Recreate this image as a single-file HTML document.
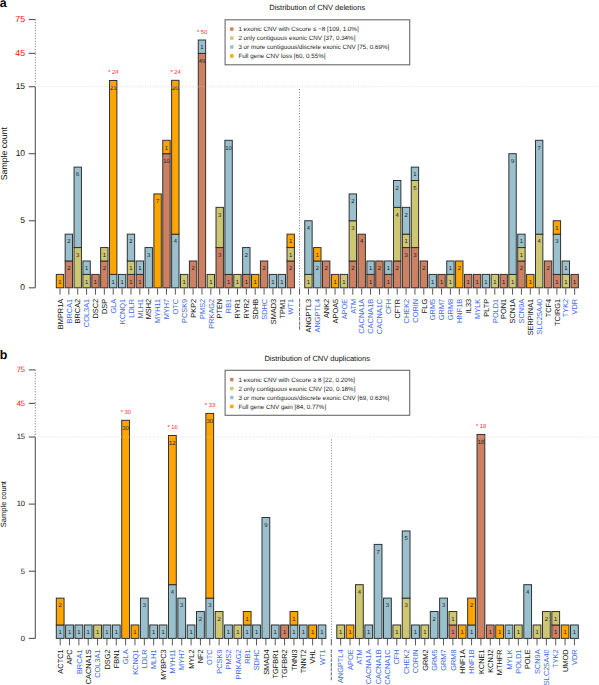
<!DOCTYPE html>
<html><head><meta charset="utf-8"><style>
html,body{margin:0;padding:0;background:#fff;width:599px;height:685px;overflow:hidden}
svg{display:block;font-family:"Liberation Sans",sans-serif;text-rendering:geometricPrecision}
</style></head><body>
<svg width="599" height="685" viewBox="0 0 599 685">
<text x="317.2" y="10" font-size="7.5" text-anchor="middle" fill="#111">Distribution of CNV deletions</text>
<text x="-0.3" y="6.9" font-size="12.4" font-weight="bold" fill="#000">a</text>
<rect x="225.1" y="19.8" width="184.6" height="45" fill="none" stroke="#6a6a6a" stroke-width="1.1"/>
<rect x="230.1" y="27.35" width="3.4" height="3.5" fill="#CD8162"/>
<text x="238.4" y="31.3" font-size="6.27" fill="#1a1a1a">1 exonic CNV with Cscore ≤ −8 [109, 1.0%]</text>
<rect x="230.1" y="36.3" width="3.4" height="3.5" fill="#CDC673"/>
<text x="238.4" y="40.25" font-size="6.27" fill="#1a1a1a">2 only contiguous exonic CNV [37, 0.34%]</text>
<rect x="230.1" y="45.25" width="3.4" height="3.5" fill="#9AC0CD"/>
<text x="238.4" y="49.2" font-size="6.27" fill="#1a1a1a">3 or more contiguous/discrete exonic CNV [75, 0.69%]</text>
<rect x="230.1" y="54.2" width="3.4" height="3.5" fill="#FFA500"/>
<text x="238.4" y="58.15" font-size="6.27" fill="#1a1a1a">Full gene CNV loss [60, 0.55%]</text>
<line x1="35.3" y1="86.7" x2="35.3" y2="287.8" stroke="#555" stroke-width="1.1"/>
<line x1="35.3" y1="19.5" x2="35.3" y2="86.7" stroke="#555" stroke-width="0.9" stroke-dasharray="0.9 1.77"/>
<line x1="28.8" y1="287.8" x2="35.3" y2="287.8" stroke="#555" stroke-width="1.1"/>
<text x="25.1" y="290.47" font-size="8.5" text-anchor="end" fill="#111">0</text>
<line x1="28.8" y1="220.75" x2="35.3" y2="220.75" stroke="#555" stroke-width="1.1"/>
<text x="25.1" y="223.42" font-size="8.5" text-anchor="end" fill="#111">5</text>
<line x1="28.8" y1="153.7" x2="35.3" y2="153.7" stroke="#555" stroke-width="1.1"/>
<text x="25.1" y="156.37" font-size="8.5" text-anchor="end" fill="#111">10</text>
<line x1="28.8" y1="86.7" x2="35.3" y2="86.7" stroke="#555" stroke-width="1.1"/>
<text x="25.1" y="89.37" font-size="8.5" text-anchor="end" fill="#111">15</text>
<line x1="28.8" y1="53.4" x2="35.3" y2="53.4" stroke="#555" stroke-width="1.1"/>
<text x="25.1" y="56.17" font-size="8.8" text-anchor="end" fill="#ff0d0d">45</text>
<line x1="28.8" y1="19.5" x2="35.3" y2="19.5" stroke="#555" stroke-width="1.1"/>
<text x="25.1" y="22.27" font-size="8.8" text-anchor="end" fill="#ff0d0d">75</text>
<text transform="translate(6.87 153.65) rotate(-90)" font-size="8.7" text-anchor="middle" fill="#111">Sample count</text>
<line x1="299.5" y1="89.2" x2="299.5" y2="287.8" stroke="#666" stroke-width="0.9" stroke-dasharray="0.9 1.77"/>
<line x1="59.98" y1="288.4" x2="59.98" y2="294.7" stroke="#444" stroke-width="0.9"/>
<text transform="translate(62.68 298.8) rotate(-90)" font-size="7.4" text-anchor="end" fill="#111">BMPR1A</text>
<rect x="56.28" y="274.39" width="7.39" height="13.41" fill="#FFA500" stroke="#2a2a2a" stroke-width="0.95"/>
<text x="59.98" y="283.69" font-size="5.9" text-anchor="middle" fill="#1a1a1a">1</text>
<line x1="68.85" y1="288.4" x2="68.85" y2="294.7" stroke="#444" stroke-width="0.9"/>
<text transform="translate(71.55 298.8) rotate(-90)" font-size="7.4" text-anchor="end" fill="#4169E1">BRCA1</text>
<rect x="65.15" y="260.98" width="7.39" height="26.82" fill="#CD8162" stroke="#2a2a2a" stroke-width="0.95"/>
<rect x="65.15" y="234.16" width="7.39" height="26.82" fill="#9AC0CD" stroke="#2a2a2a" stroke-width="0.95"/>
<text x="68.85" y="270.28" font-size="5.9" text-anchor="middle" fill="#1a1a1a">2</text>
<text x="68.85" y="243.46" font-size="5.9" text-anchor="middle" fill="#1a1a1a">2</text>
<line x1="77.72" y1="288.4" x2="77.72" y2="294.7" stroke="#444" stroke-width="0.9"/>
<text transform="translate(80.42 298.8) rotate(-90)" font-size="7.4" text-anchor="end" fill="#111">BRCA2</text>
<rect x="74.03" y="247.57" width="7.39" height="40.23" fill="#CDC673" stroke="#2a2a2a" stroke-width="0.95"/>
<rect x="74.03" y="167.11" width="7.39" height="80.46" fill="#9AC0CD" stroke="#2a2a2a" stroke-width="0.95"/>
<text x="77.72" y="256.87" font-size="5.9" text-anchor="middle" fill="#1a1a1a">3</text>
<text x="77.72" y="176.41" font-size="5.9" text-anchor="middle" fill="#1a1a1a">6</text>
<line x1="86.6" y1="288.4" x2="86.6" y2="294.7" stroke="#444" stroke-width="0.9"/>
<text transform="translate(89.3 298.8) rotate(-90)" font-size="7.4" text-anchor="end" fill="#4169E1">COL3A1</text>
<rect x="82.9" y="274.39" width="7.39" height="13.41" fill="#CDC673" stroke="#2a2a2a" stroke-width="0.95"/>
<rect x="82.9" y="260.98" width="7.39" height="13.41" fill="#9AC0CD" stroke="#2a2a2a" stroke-width="0.95"/>
<text x="86.6" y="283.69" font-size="5.9" text-anchor="middle" fill="#1a1a1a">1</text>
<text x="86.6" y="270.28" font-size="5.9" text-anchor="middle" fill="#1a1a1a">1</text>
<line x1="95.47" y1="288.4" x2="95.47" y2="294.7" stroke="#444" stroke-width="0.9"/>
<text transform="translate(98.17 298.8) rotate(-90)" font-size="7.4" text-anchor="end" fill="#111">DSC2</text>
<rect x="91.78" y="274.39" width="7.39" height="13.41" fill="#CD8162" stroke="#2a2a2a" stroke-width="0.95"/>
<text x="95.47" y="283.69" font-size="5.9" text-anchor="middle" fill="#1a1a1a">1</text>
<line x1="104.34" y1="288.4" x2="104.34" y2="294.7" stroke="#444" stroke-width="0.9"/>
<text transform="translate(107.05 298.8) rotate(-90)" font-size="7.4" text-anchor="end" fill="#111">DSP</text>
<rect x="100.65" y="260.98" width="7.39" height="26.82" fill="#CD8162" stroke="#2a2a2a" stroke-width="0.95"/>
<rect x="100.65" y="247.57" width="7.39" height="13.41" fill="#CDC673" stroke="#2a2a2a" stroke-width="0.95"/>
<text x="104.34" y="270.28" font-size="5.9" text-anchor="middle" fill="#1a1a1a">2</text>
<text x="104.34" y="256.87" font-size="5.9" text-anchor="middle" fill="#1a1a1a">1</text>
<line x1="113.22" y1="288.4" x2="113.22" y2="294.7" stroke="#444" stroke-width="0.9"/>
<text transform="translate(115.92 298.8) rotate(-90)" font-size="7.4" text-anchor="end" fill="#4169E1">GLA</text>
<rect x="109.52" y="274.39" width="7.39" height="13.41" fill="#9AC0CD" stroke="#2a2a2a" stroke-width="0.95"/>
<rect x="109.52" y="80.5" width="7.39" height="193.89" fill="#FFA500" stroke="#2a2a2a" stroke-width="0.95"/>
<text x="113.22" y="283.69" font-size="5.9" text-anchor="middle" fill="#1a1a1a">1</text>
<text x="113.22" y="89.8" font-size="5.9" text-anchor="middle" fill="#1a1a1a">23</text>
<text x="113.42" y="74" font-size="5.8" text-anchor="middle" fill="#ff1f1f">* 24</text>
<line x1="122.09" y1="288.4" x2="122.09" y2="294.7" stroke="#444" stroke-width="0.9"/>
<text transform="translate(124.79 298.8) rotate(-90)" font-size="7.4" text-anchor="end" fill="#4169E1">KCNQ1</text>
<rect x="118.4" y="274.39" width="7.39" height="13.41" fill="#9AC0CD" stroke="#2a2a2a" stroke-width="0.95"/>
<text x="122.09" y="283.69" font-size="5.9" text-anchor="middle" fill="#1a1a1a">1</text>
<line x1="130.97" y1="288.4" x2="130.97" y2="294.7" stroke="#444" stroke-width="0.9"/>
<text transform="translate(133.67 298.8) rotate(-90)" font-size="7.4" text-anchor="end" fill="#4169E1">LDLR</text>
<rect x="127.27" y="274.39" width="7.39" height="13.41" fill="#CD8162" stroke="#2a2a2a" stroke-width="0.95"/>
<rect x="127.27" y="260.98" width="7.39" height="13.41" fill="#CDC673" stroke="#2a2a2a" stroke-width="0.95"/>
<rect x="127.27" y="234.16" width="7.39" height="26.82" fill="#9AC0CD" stroke="#2a2a2a" stroke-width="0.95"/>
<text x="130.97" y="283.69" font-size="5.9" text-anchor="middle" fill="#1a1a1a">1</text>
<text x="130.97" y="270.28" font-size="5.9" text-anchor="middle" fill="#1a1a1a">1</text>
<text x="130.97" y="243.46" font-size="5.9" text-anchor="middle" fill="#1a1a1a">2</text>
<line x1="139.84" y1="288.4" x2="139.84" y2="294.7" stroke="#444" stroke-width="0.9"/>
<text transform="translate(142.54 298.8) rotate(-90)" font-size="7.4" text-anchor="end" fill="#4169E1">MLH1</text>
<rect x="136.15" y="274.39" width="7.39" height="13.41" fill="#CD8162" stroke="#2a2a2a" stroke-width="0.95"/>
<rect x="136.15" y="260.98" width="7.39" height="13.41" fill="#9AC0CD" stroke="#2a2a2a" stroke-width="0.95"/>
<text x="139.84" y="283.69" font-size="5.9" text-anchor="middle" fill="#1a1a1a">1</text>
<text x="139.84" y="270.28" font-size="5.9" text-anchor="middle" fill="#1a1a1a">1</text>
<line x1="148.72" y1="288.4" x2="148.72" y2="294.7" stroke="#444" stroke-width="0.9"/>
<text transform="translate(151.41 298.8) rotate(-90)" font-size="7.4" text-anchor="end" fill="#111">MSH2</text>
<rect x="145.02" y="247.57" width="7.39" height="40.23" fill="#9AC0CD" stroke="#2a2a2a" stroke-width="0.95"/>
<text x="148.72" y="256.87" font-size="5.9" text-anchor="middle" fill="#1a1a1a">3</text>
<line x1="157.59" y1="288.4" x2="157.59" y2="294.7" stroke="#444" stroke-width="0.9"/>
<text transform="translate(160.29 298.8) rotate(-90)" font-size="7.4" text-anchor="end" fill="#4169E1">MYH11</text>
<rect x="153.89" y="193.93" width="7.39" height="93.87" fill="#FFA500" stroke="#2a2a2a" stroke-width="0.95"/>
<text x="157.59" y="203.23" font-size="5.9" text-anchor="middle" fill="#1a1a1a">7</text>
<line x1="166.46" y1="288.4" x2="166.46" y2="294.7" stroke="#444" stroke-width="0.9"/>
<text transform="translate(169.16 298.8) rotate(-90)" font-size="7.4" text-anchor="end" fill="#4169E1">MYH7</text>
<rect x="162.77" y="153.7" width="7.39" height="134.1" fill="#CD8162" stroke="#2a2a2a" stroke-width="0.95"/>
<rect x="162.77" y="140.29" width="7.39" height="13.41" fill="#FFA500" stroke="#2a2a2a" stroke-width="0.95"/>
<text x="166.46" y="163" font-size="5.9" text-anchor="middle" fill="#1a1a1a">10</text>
<text x="166.46" y="149.59" font-size="5.9" text-anchor="middle" fill="#1a1a1a">1</text>
<line x1="175.34" y1="288.4" x2="175.34" y2="294.7" stroke="#444" stroke-width="0.9"/>
<text transform="translate(178.04 298.8) rotate(-90)" font-size="7.4" text-anchor="end" fill="#4169E1">OTC</text>
<rect x="171.64" y="234.16" width="7.39" height="53.64" fill="#9AC0CD" stroke="#2a2a2a" stroke-width="0.95"/>
<rect x="171.64" y="80.3" width="7.39" height="153.86" fill="#FFA500" stroke="#2a2a2a" stroke-width="0.95"/>
<text x="175.34" y="243.46" font-size="5.9" text-anchor="middle" fill="#1a1a1a">4</text>
<text x="175.34" y="89.6" font-size="5.9" text-anchor="middle" fill="#1a1a1a">20</text>
<text x="175.54" y="74" font-size="5.8" text-anchor="middle" fill="#ff1f1f">* 24</text>
<line x1="184.21" y1="288.4" x2="184.21" y2="294.7" stroke="#444" stroke-width="0.9"/>
<text transform="translate(186.91 298.8) rotate(-90)" font-size="7.4" text-anchor="end" fill="#4169E1">PCSK9</text>
<rect x="180.52" y="274.39" width="7.39" height="13.41" fill="#CDC673" stroke="#2a2a2a" stroke-width="0.95"/>
<text x="184.21" y="283.69" font-size="5.9" text-anchor="middle" fill="#1a1a1a">1</text>
<line x1="193.09" y1="288.4" x2="193.09" y2="294.7" stroke="#444" stroke-width="0.9"/>
<text transform="translate(195.78 298.8) rotate(-90)" font-size="7.4" text-anchor="end" fill="#111">PKP2</text>
<rect x="189.39" y="260.98" width="7.39" height="26.82" fill="#CD8162" stroke="#2a2a2a" stroke-width="0.95"/>
<text x="193.09" y="270.28" font-size="5.9" text-anchor="middle" fill="#1a1a1a">2</text>
<line x1="201.96" y1="288.4" x2="201.96" y2="294.7" stroke="#444" stroke-width="0.9"/>
<text transform="translate(204.66 298.8) rotate(-90)" font-size="7.4" text-anchor="end" fill="#4169E1">PMS2</text>
<rect x="198.26" y="53.4" width="7.39" height="234.4" fill="#CD8162" stroke="#2a2a2a" stroke-width="0.95"/>
<rect x="198.26" y="40" width="7.39" height="13.4" fill="#9AC0CD" stroke="#2a2a2a" stroke-width="0.95"/>
<text x="201.96" y="62.7" font-size="5.9" text-anchor="middle" fill="#1a1a1a">49</text>
<text x="201.96" y="49.3" font-size="5.9" text-anchor="middle" fill="#1a1a1a">1</text>
<text x="202.16" y="33.9" font-size="5.8" text-anchor="middle" fill="#ff1f1f">* 50</text>
<line x1="210.83" y1="288.4" x2="210.83" y2="294.7" stroke="#444" stroke-width="0.9"/>
<text transform="translate(213.53 298.8) rotate(-90)" font-size="7.4" text-anchor="end" fill="#4169E1">PRKAG2</text>
<rect x="207.14" y="274.39" width="7.39" height="13.41" fill="#CDC673" stroke="#2a2a2a" stroke-width="0.95"/>
<text x="210.83" y="283.69" font-size="5.9" text-anchor="middle" fill="#1a1a1a">1</text>
<line x1="219.71" y1="288.4" x2="219.71" y2="294.7" stroke="#444" stroke-width="0.9"/>
<text transform="translate(222.41 298.8) rotate(-90)" font-size="7.4" text-anchor="end" fill="#111">PTEN</text>
<rect x="216.01" y="247.57" width="7.39" height="40.23" fill="#CD8162" stroke="#2a2a2a" stroke-width="0.95"/>
<rect x="216.01" y="207.34" width="7.39" height="40.23" fill="#CDC673" stroke="#2a2a2a" stroke-width="0.95"/>
<text x="219.71" y="256.87" font-size="5.9" text-anchor="middle" fill="#1a1a1a">3</text>
<text x="219.71" y="216.64" font-size="5.9" text-anchor="middle" fill="#1a1a1a">3</text>
<line x1="228.58" y1="288.4" x2="228.58" y2="294.7" stroke="#444" stroke-width="0.9"/>
<text transform="translate(231.28 298.8) rotate(-90)" font-size="7.4" text-anchor="end" fill="#4169E1">RB1</text>
<rect x="224.89" y="274.39" width="7.39" height="13.41" fill="#CD8162" stroke="#2a2a2a" stroke-width="0.95"/>
<rect x="224.89" y="140.29" width="7.39" height="134.1" fill="#9AC0CD" stroke="#2a2a2a" stroke-width="0.95"/>
<text x="228.58" y="283.69" font-size="5.9" text-anchor="middle" fill="#1a1a1a">1</text>
<text x="228.58" y="149.59" font-size="5.9" text-anchor="middle" fill="#1a1a1a">10</text>
<line x1="237.46" y1="288.4" x2="237.46" y2="294.7" stroke="#444" stroke-width="0.9"/>
<text transform="translate(240.16 298.8) rotate(-90)" font-size="7.4" text-anchor="end" fill="#111">RYR1</text>
<rect x="233.76" y="274.39" width="7.39" height="13.41" fill="#CDC673" stroke="#2a2a2a" stroke-width="0.95"/>
<text x="237.46" y="283.69" font-size="5.9" text-anchor="middle" fill="#1a1a1a">1</text>
<line x1="246.33" y1="288.4" x2="246.33" y2="294.7" stroke="#444" stroke-width="0.9"/>
<text transform="translate(249.03 298.8) rotate(-90)" font-size="7.4" text-anchor="end" fill="#111">RYR2</text>
<rect x="242.63" y="274.39" width="7.39" height="13.41" fill="#CD8162" stroke="#2a2a2a" stroke-width="0.95"/>
<rect x="242.63" y="247.57" width="7.39" height="26.82" fill="#9AC0CD" stroke="#2a2a2a" stroke-width="0.95"/>
<text x="246.33" y="283.69" font-size="5.9" text-anchor="middle" fill="#1a1a1a">1</text>
<text x="246.33" y="256.87" font-size="5.9" text-anchor="middle" fill="#1a1a1a">2</text>
<line x1="255.2" y1="288.4" x2="255.2" y2="294.7" stroke="#444" stroke-width="0.9"/>
<text transform="translate(257.9 298.8) rotate(-90)" font-size="7.4" text-anchor="end" fill="#111">SDHB</text>
<rect x="251.51" y="274.39" width="7.39" height="13.41" fill="#FFA500" stroke="#2a2a2a" stroke-width="0.95"/>
<text x="255.2" y="283.69" font-size="5.9" text-anchor="middle" fill="#1a1a1a">1</text>
<line x1="264.08" y1="288.4" x2="264.08" y2="294.7" stroke="#444" stroke-width="0.9"/>
<text transform="translate(266.78 298.8) rotate(-90)" font-size="7.4" text-anchor="end" fill="#4169E1">SDHC</text>
<rect x="260.38" y="260.98" width="7.39" height="26.82" fill="#CD8162" stroke="#2a2a2a" stroke-width="0.95"/>
<text x="264.08" y="270.28" font-size="5.9" text-anchor="middle" fill="#1a1a1a">2</text>
<line x1="272.95" y1="288.4" x2="272.95" y2="294.7" stroke="#444" stroke-width="0.9"/>
<text transform="translate(275.65 298.8) rotate(-90)" font-size="7.4" text-anchor="end" fill="#111">SMAD3</text>
<rect x="269.26" y="274.39" width="7.39" height="13.41" fill="#9AC0CD" stroke="#2a2a2a" stroke-width="0.95"/>
<text x="272.95" y="283.69" font-size="5.9" text-anchor="middle" fill="#1a1a1a">1</text>
<line x1="281.82" y1="288.4" x2="281.82" y2="294.7" stroke="#444" stroke-width="0.9"/>
<text transform="translate(284.52 298.8) rotate(-90)" font-size="7.4" text-anchor="end" fill="#111">TPM1</text>
<rect x="278.13" y="274.39" width="7.39" height="13.41" fill="#9AC0CD" stroke="#2a2a2a" stroke-width="0.95"/>
<text x="281.82" y="283.69" font-size="5.9" text-anchor="middle" fill="#1a1a1a">1</text>
<line x1="290.7" y1="288.4" x2="290.7" y2="294.7" stroke="#444" stroke-width="0.9"/>
<text transform="translate(293.4 298.8) rotate(-90)" font-size="7.4" text-anchor="end" fill="#4169E1">WT1</text>
<rect x="287" y="260.98" width="7.39" height="26.82" fill="#CD8162" stroke="#2a2a2a" stroke-width="0.95"/>
<rect x="287" y="247.57" width="7.39" height="13.41" fill="#CDC673" stroke="#2a2a2a" stroke-width="0.95"/>
<rect x="287" y="234.16" width="7.39" height="13.41" fill="#FFA500" stroke="#2a2a2a" stroke-width="0.95"/>
<text x="290.7" y="270.28" font-size="5.9" text-anchor="middle" fill="#1a1a1a">2</text>
<text x="290.7" y="256.87" font-size="5.9" text-anchor="middle" fill="#1a1a1a">1</text>
<text x="290.7" y="243.46" font-size="5.9" text-anchor="middle" fill="#1a1a1a">1</text>
<line x1="299.57" y1="288.4" x2="299.57" y2="294.7" stroke="#444" stroke-width="0.9"/>
<line x1="299.57" y1="298.8" x2="299.57" y2="330.6" stroke="#777" stroke-width="1.1" stroke-dasharray="3.6 0.95"/>
<line x1="308.45" y1="288.4" x2="308.45" y2="294.7" stroke="#444" stroke-width="0.9"/>
<text transform="translate(311.15 298.8) rotate(-90)" font-size="7.4" text-anchor="end" fill="#111">ANGPTL3</text>
<rect x="304.75" y="274.39" width="7.39" height="13.41" fill="#CDC673" stroke="#2a2a2a" stroke-width="0.95"/>
<rect x="304.75" y="220.75" width="7.39" height="53.64" fill="#9AC0CD" stroke="#2a2a2a" stroke-width="0.95"/>
<text x="308.45" y="283.69" font-size="5.9" text-anchor="middle" fill="#1a1a1a">1</text>
<text x="308.45" y="230.05" font-size="5.9" text-anchor="middle" fill="#1a1a1a">4</text>
<line x1="317.32" y1="288.4" x2="317.32" y2="294.7" stroke="#444" stroke-width="0.9"/>
<text transform="translate(320.02 298.8) rotate(-90)" font-size="7.4" text-anchor="end" fill="#4169E1">ANGPTL4</text>
<rect x="313.63" y="260.98" width="7.39" height="26.82" fill="#9AC0CD" stroke="#2a2a2a" stroke-width="0.95"/>
<rect x="313.63" y="247.57" width="7.39" height="13.41" fill="#FFA500" stroke="#2a2a2a" stroke-width="0.95"/>
<text x="317.32" y="270.28" font-size="5.9" text-anchor="middle" fill="#1a1a1a">2</text>
<text x="317.32" y="256.87" font-size="5.9" text-anchor="middle" fill="#1a1a1a">1</text>
<line x1="326.19" y1="288.4" x2="326.19" y2="294.7" stroke="#444" stroke-width="0.9"/>
<text transform="translate(328.89 298.8) rotate(-90)" font-size="7.4" text-anchor="end" fill="#111">ANK2</text>
<rect x="322.5" y="260.98" width="7.39" height="26.82" fill="#CD8162" stroke="#2a2a2a" stroke-width="0.95"/>
<text x="326.19" y="270.28" font-size="5.9" text-anchor="middle" fill="#1a1a1a">2</text>
<line x1="335.07" y1="288.4" x2="335.07" y2="294.7" stroke="#444" stroke-width="0.9"/>
<text transform="translate(337.77 298.8) rotate(-90)" font-size="7.4" text-anchor="end" fill="#111">APOA5</text>
<rect x="331.37" y="274.39" width="7.39" height="13.41" fill="#FFA500" stroke="#2a2a2a" stroke-width="0.95"/>
<text x="335.07" y="283.69" font-size="5.9" text-anchor="middle" fill="#1a1a1a">1</text>
<line x1="343.94" y1="288.4" x2="343.94" y2="294.7" stroke="#444" stroke-width="0.9"/>
<text transform="translate(346.64 298.8) rotate(-90)" font-size="7.4" text-anchor="end" fill="#4169E1">APOE</text>
<rect x="340.25" y="274.39" width="7.39" height="13.41" fill="#CDC673" stroke="#2a2a2a" stroke-width="0.95"/>
<text x="343.94" y="283.69" font-size="5.9" text-anchor="middle" fill="#1a1a1a">1</text>
<line x1="352.82" y1="288.4" x2="352.82" y2="294.7" stroke="#444" stroke-width="0.9"/>
<text transform="translate(355.52 298.8) rotate(-90)" font-size="7.4" text-anchor="end" fill="#4169E1">ATM</text>
<rect x="349.12" y="260.98" width="7.39" height="26.82" fill="#CD8162" stroke="#2a2a2a" stroke-width="0.95"/>
<rect x="349.12" y="220.75" width="7.39" height="40.23" fill="#CDC673" stroke="#2a2a2a" stroke-width="0.95"/>
<rect x="349.12" y="193.93" width="7.39" height="26.82" fill="#9AC0CD" stroke="#2a2a2a" stroke-width="0.95"/>
<text x="352.82" y="270.28" font-size="5.9" text-anchor="middle" fill="#1a1a1a">2</text>
<text x="352.82" y="230.05" font-size="5.9" text-anchor="middle" fill="#1a1a1a">3</text>
<text x="352.82" y="203.23" font-size="5.9" text-anchor="middle" fill="#1a1a1a">2</text>
<line x1="361.69" y1="288.4" x2="361.69" y2="294.7" stroke="#444" stroke-width="0.9"/>
<text transform="translate(364.39 298.8) rotate(-90)" font-size="7.4" text-anchor="end" fill="#4169E1">CACNA1A</text>
<rect x="358" y="234.16" width="7.39" height="53.64" fill="#CD8162" stroke="#2a2a2a" stroke-width="0.95"/>
<text x="361.69" y="243.46" font-size="5.9" text-anchor="middle" fill="#1a1a1a">4</text>
<line x1="370.56" y1="288.4" x2="370.56" y2="294.7" stroke="#444" stroke-width="0.9"/>
<text transform="translate(373.26 298.8) rotate(-90)" font-size="7.4" text-anchor="end" fill="#4169E1">CACNA1B</text>
<rect x="366.87" y="274.39" width="7.39" height="13.41" fill="#CD8162" stroke="#2a2a2a" stroke-width="0.95"/>
<rect x="366.87" y="260.98" width="7.39" height="13.41" fill="#9AC0CD" stroke="#2a2a2a" stroke-width="0.95"/>
<text x="370.56" y="283.69" font-size="5.9" text-anchor="middle" fill="#1a1a1a">1</text>
<text x="370.56" y="270.28" font-size="5.9" text-anchor="middle" fill="#1a1a1a">1</text>
<line x1="379.44" y1="288.4" x2="379.44" y2="294.7" stroke="#444" stroke-width="0.9"/>
<text transform="translate(382.14 298.8) rotate(-90)" font-size="7.4" text-anchor="end" fill="#4169E1">CACNA1C</text>
<rect x="375.74" y="260.98" width="7.39" height="26.82" fill="#CD8162" stroke="#2a2a2a" stroke-width="0.95"/>
<text x="379.44" y="270.28" font-size="5.9" text-anchor="middle" fill="#1a1a1a">2</text>
<line x1="388.31" y1="288.4" x2="388.31" y2="294.7" stroke="#444" stroke-width="0.9"/>
<text transform="translate(391.01 298.8) rotate(-90)" font-size="7.4" text-anchor="end" fill="#4169E1">CFH</text>
<rect x="384.62" y="274.39" width="7.39" height="13.41" fill="#CD8162" stroke="#2a2a2a" stroke-width="0.95"/>
<rect x="384.62" y="260.98" width="7.39" height="13.41" fill="#9AC0CD" stroke="#2a2a2a" stroke-width="0.95"/>
<text x="388.31" y="283.69" font-size="5.9" text-anchor="middle" fill="#1a1a1a">1</text>
<text x="388.31" y="270.28" font-size="5.9" text-anchor="middle" fill="#1a1a1a">1</text>
<line x1="397.19" y1="288.4" x2="397.19" y2="294.7" stroke="#444" stroke-width="0.9"/>
<text transform="translate(399.89 298.8) rotate(-90)" font-size="7.4" text-anchor="end" fill="#111">CFTR</text>
<rect x="393.49" y="260.98" width="7.39" height="26.82" fill="#CD8162" stroke="#2a2a2a" stroke-width="0.95"/>
<rect x="393.49" y="207.34" width="7.39" height="53.64" fill="#CDC673" stroke="#2a2a2a" stroke-width="0.95"/>
<rect x="393.49" y="180.52" width="7.39" height="26.82" fill="#9AC0CD" stroke="#2a2a2a" stroke-width="0.95"/>
<text x="397.19" y="270.28" font-size="5.9" text-anchor="middle" fill="#1a1a1a">2</text>
<text x="397.19" y="216.64" font-size="5.9" text-anchor="middle" fill="#1a1a1a">4</text>
<text x="397.19" y="189.82" font-size="5.9" text-anchor="middle" fill="#1a1a1a">2</text>
<line x1="406.06" y1="288.4" x2="406.06" y2="294.7" stroke="#444" stroke-width="0.9"/>
<text transform="translate(408.76 298.8) rotate(-90)" font-size="7.4" text-anchor="end" fill="#4169E1">CHEK2</text>
<rect x="402.37" y="247.57" width="7.39" height="40.23" fill="#CD8162" stroke="#2a2a2a" stroke-width="0.95"/>
<rect x="402.37" y="234.16" width="7.39" height="13.41" fill="#CDC673" stroke="#2a2a2a" stroke-width="0.95"/>
<rect x="402.37" y="207.34" width="7.39" height="26.82" fill="#9AC0CD" stroke="#2a2a2a" stroke-width="0.95"/>
<text x="406.06" y="256.87" font-size="5.9" text-anchor="middle" fill="#1a1a1a">3</text>
<text x="406.06" y="243.46" font-size="5.9" text-anchor="middle" fill="#1a1a1a">1</text>
<text x="406.06" y="216.64" font-size="5.9" text-anchor="middle" fill="#1a1a1a">2</text>
<line x1="414.94" y1="288.4" x2="414.94" y2="294.7" stroke="#444" stroke-width="0.9"/>
<text transform="translate(417.63 298.8) rotate(-90)" font-size="7.4" text-anchor="end" fill="#4169E1">CORIN</text>
<rect x="411.24" y="247.57" width="7.39" height="40.23" fill="#CD8162" stroke="#2a2a2a" stroke-width="0.95"/>
<rect x="411.24" y="180.52" width="7.39" height="67.05" fill="#CDC673" stroke="#2a2a2a" stroke-width="0.95"/>
<rect x="411.24" y="167.11" width="7.39" height="13.41" fill="#9AC0CD" stroke="#2a2a2a" stroke-width="0.95"/>
<text x="414.94" y="256.87" font-size="5.9" text-anchor="middle" fill="#1a1a1a">3</text>
<text x="414.94" y="189.82" font-size="5.9" text-anchor="middle" fill="#1a1a1a">5</text>
<text x="414.94" y="176.41" font-size="5.9" text-anchor="middle" fill="#1a1a1a">1</text>
<line x1="423.81" y1="288.4" x2="423.81" y2="294.7" stroke="#444" stroke-width="0.9"/>
<text transform="translate(426.51 298.8) rotate(-90)" font-size="7.4" text-anchor="end" fill="#111">FLG</text>
<rect x="420.11" y="260.98" width="7.39" height="26.82" fill="#CD8162" stroke="#2a2a2a" stroke-width="0.95"/>
<text x="423.81" y="270.28" font-size="5.9" text-anchor="middle" fill="#1a1a1a">2</text>
<line x1="432.68" y1="288.4" x2="432.68" y2="294.7" stroke="#444" stroke-width="0.9"/>
<text transform="translate(435.38 298.8) rotate(-90)" font-size="7.4" text-anchor="end" fill="#4169E1">GRM5</text>
<rect x="428.99" y="274.39" width="7.39" height="13.41" fill="#9AC0CD" stroke="#2a2a2a" stroke-width="0.95"/>
<text x="432.68" y="283.69" font-size="5.9" text-anchor="middle" fill="#1a1a1a">1</text>
<line x1="441.56" y1="288.4" x2="441.56" y2="294.7" stroke="#444" stroke-width="0.9"/>
<text transform="translate(444.26 298.8) rotate(-90)" font-size="7.4" text-anchor="end" fill="#4169E1">GRM7</text>
<rect x="437.86" y="274.39" width="7.39" height="13.41" fill="#CD8162" stroke="#2a2a2a" stroke-width="0.95"/>
<text x="441.56" y="283.69" font-size="5.9" text-anchor="middle" fill="#1a1a1a">1</text>
<line x1="450.43" y1="288.4" x2="450.43" y2="294.7" stroke="#444" stroke-width="0.9"/>
<text transform="translate(453.13 298.8) rotate(-90)" font-size="7.4" text-anchor="end" fill="#4169E1">GRM8</text>
<rect x="446.74" y="274.39" width="7.39" height="13.41" fill="#CDC673" stroke="#2a2a2a" stroke-width="0.95"/>
<rect x="446.74" y="260.98" width="7.39" height="13.41" fill="#9AC0CD" stroke="#2a2a2a" stroke-width="0.95"/>
<text x="450.43" y="283.69" font-size="5.9" text-anchor="middle" fill="#1a1a1a">1</text>
<text x="450.43" y="270.28" font-size="5.9" text-anchor="middle" fill="#1a1a1a">1</text>
<line x1="459.31" y1="288.4" x2="459.31" y2="294.7" stroke="#444" stroke-width="0.9"/>
<text transform="translate(462 298.8) rotate(-90)" font-size="7.4" text-anchor="end" fill="#4169E1">HNF1B</text>
<rect x="455.61" y="260.98" width="7.39" height="26.82" fill="#FFA500" stroke="#2a2a2a" stroke-width="0.95"/>
<text x="459.31" y="270.28" font-size="5.9" text-anchor="middle" fill="#1a1a1a">2</text>
<line x1="468.18" y1="288.4" x2="468.18" y2="294.7" stroke="#444" stroke-width="0.9"/>
<text transform="translate(470.88 298.8) rotate(-90)" font-size="7.4" text-anchor="end" fill="#111">IL33</text>
<rect x="464.48" y="274.39" width="7.39" height="13.41" fill="#CD8162" stroke="#2a2a2a" stroke-width="0.95"/>
<text x="468.18" y="283.69" font-size="5.9" text-anchor="middle" fill="#1a1a1a">1</text>
<line x1="477.05" y1="288.4" x2="477.05" y2="294.7" stroke="#444" stroke-width="0.9"/>
<text transform="translate(479.75 298.8) rotate(-90)" font-size="7.4" text-anchor="end" fill="#4169E1">MYLK</text>
<rect x="473.36" y="274.39" width="7.39" height="13.41" fill="#CD8162" stroke="#2a2a2a" stroke-width="0.95"/>
<text x="477.05" y="283.69" font-size="5.9" text-anchor="middle" fill="#1a1a1a">1</text>
<line x1="485.93" y1="288.4" x2="485.93" y2="294.7" stroke="#444" stroke-width="0.9"/>
<text transform="translate(488.63 298.8) rotate(-90)" font-size="7.4" text-anchor="end" fill="#111">PLTP</text>
<rect x="482.23" y="274.39" width="7.39" height="13.41" fill="#9AC0CD" stroke="#2a2a2a" stroke-width="0.95"/>
<text x="485.93" y="283.69" font-size="5.9" text-anchor="middle" fill="#1a1a1a">1</text>
<line x1="494.8" y1="288.4" x2="494.8" y2="294.7" stroke="#444" stroke-width="0.9"/>
<text transform="translate(497.5 298.8) rotate(-90)" font-size="7.4" text-anchor="end" fill="#4169E1">POLD1</text>
<rect x="491.11" y="274.39" width="7.39" height="13.41" fill="#CDC673" stroke="#2a2a2a" stroke-width="0.95"/>
<text x="494.8" y="283.69" font-size="5.9" text-anchor="middle" fill="#1a1a1a">1</text>
<line x1="503.68" y1="288.4" x2="503.68" y2="294.7" stroke="#444" stroke-width="0.9"/>
<text transform="translate(506.38 298.8) rotate(-90)" font-size="7.4" text-anchor="end" fill="#111">PON1</text>
<rect x="499.98" y="274.39" width="7.39" height="13.41" fill="#CD8162" stroke="#2a2a2a" stroke-width="0.95"/>
<text x="503.68" y="283.69" font-size="5.9" text-anchor="middle" fill="#1a1a1a">1</text>
<line x1="512.55" y1="288.4" x2="512.55" y2="294.7" stroke="#444" stroke-width="0.9"/>
<text transform="translate(515.25 298.8) rotate(-90)" font-size="7.4" text-anchor="end" fill="#111">SCN1A</text>
<rect x="508.85" y="274.39" width="7.39" height="13.41" fill="#CDC673" stroke="#2a2a2a" stroke-width="0.95"/>
<rect x="508.85" y="153.7" width="7.39" height="120.69" fill="#9AC0CD" stroke="#2a2a2a" stroke-width="0.95"/>
<text x="512.55" y="283.69" font-size="5.9" text-anchor="middle" fill="#1a1a1a">1</text>
<text x="512.55" y="163" font-size="5.9" text-anchor="middle" fill="#1a1a1a">9</text>
<line x1="521.42" y1="288.4" x2="521.42" y2="294.7" stroke="#444" stroke-width="0.9"/>
<text transform="translate(524.12 298.8) rotate(-90)" font-size="7.4" text-anchor="end" fill="#4169E1">SCN9A</text>
<rect x="517.73" y="260.98" width="7.39" height="26.82" fill="#CD8162" stroke="#2a2a2a" stroke-width="0.95"/>
<rect x="517.73" y="247.57" width="7.39" height="13.41" fill="#CDC673" stroke="#2a2a2a" stroke-width="0.95"/>
<rect x="517.73" y="234.16" width="7.39" height="13.41" fill="#9AC0CD" stroke="#2a2a2a" stroke-width="0.95"/>
<text x="521.42" y="270.28" font-size="5.9" text-anchor="middle" fill="#1a1a1a">2</text>
<text x="521.42" y="256.87" font-size="5.9" text-anchor="middle" fill="#1a1a1a">1</text>
<text x="521.42" y="243.46" font-size="5.9" text-anchor="middle" fill="#1a1a1a">1</text>
<line x1="530.3" y1="288.4" x2="530.3" y2="294.7" stroke="#444" stroke-width="0.9"/>
<text transform="translate(533 298.8) rotate(-90)" font-size="7.4" text-anchor="end" fill="#111">SERPINA1</text>
<rect x="526.6" y="274.39" width="7.39" height="13.41" fill="#FFA500" stroke="#2a2a2a" stroke-width="0.95"/>
<text x="530.3" y="283.69" font-size="5.9" text-anchor="middle" fill="#1a1a1a">1</text>
<line x1="539.17" y1="288.4" x2="539.17" y2="294.7" stroke="#444" stroke-width="0.9"/>
<text transform="translate(541.87 298.8) rotate(-90)" font-size="7.4" text-anchor="end" fill="#4169E1">SLC25A40</text>
<rect x="535.48" y="234.16" width="7.39" height="53.64" fill="#CDC673" stroke="#2a2a2a" stroke-width="0.95"/>
<rect x="535.48" y="140.29" width="7.39" height="93.87" fill="#9AC0CD" stroke="#2a2a2a" stroke-width="0.95"/>
<text x="539.17" y="243.46" font-size="5.9" text-anchor="middle" fill="#1a1a1a">4</text>
<text x="539.17" y="149.59" font-size="5.9" text-anchor="middle" fill="#1a1a1a">7</text>
<line x1="548.05" y1="288.4" x2="548.05" y2="294.7" stroke="#444" stroke-width="0.9"/>
<text transform="translate(550.75 298.8) rotate(-90)" font-size="7.4" text-anchor="end" fill="#111">TCF4</text>
<rect x="544.35" y="260.98" width="7.39" height="26.82" fill="#CD8162" stroke="#2a2a2a" stroke-width="0.95"/>
<text x="548.05" y="270.28" font-size="5.9" text-anchor="middle" fill="#1a1a1a">2</text>
<line x1="556.92" y1="288.4" x2="556.92" y2="294.7" stroke="#444" stroke-width="0.9"/>
<text transform="translate(559.62 298.8) rotate(-90)" font-size="7.4" text-anchor="end" fill="#111">TCIRG1</text>
<rect x="553.22" y="274.39" width="7.39" height="13.41" fill="#CD8162" stroke="#2a2a2a" stroke-width="0.95"/>
<rect x="553.22" y="234.16" width="7.39" height="40.23" fill="#9AC0CD" stroke="#2a2a2a" stroke-width="0.95"/>
<rect x="553.22" y="220.75" width="7.39" height="13.41" fill="#FFA500" stroke="#2a2a2a" stroke-width="0.95"/>
<text x="556.92" y="283.69" font-size="5.9" text-anchor="middle" fill="#1a1a1a">1</text>
<text x="556.92" y="243.46" font-size="5.9" text-anchor="middle" fill="#1a1a1a">3</text>
<text x="556.92" y="230.05" font-size="5.9" text-anchor="middle" fill="#1a1a1a">1</text>
<line x1="565.79" y1="288.4" x2="565.79" y2="294.7" stroke="#444" stroke-width="0.9"/>
<text transform="translate(568.49 298.8) rotate(-90)" font-size="7.4" text-anchor="end" fill="#4169E1">TYK2</text>
<rect x="562.1" y="274.39" width="7.39" height="13.41" fill="#CDC673" stroke="#2a2a2a" stroke-width="0.95"/>
<rect x="562.1" y="260.98" width="7.39" height="13.41" fill="#9AC0CD" stroke="#2a2a2a" stroke-width="0.95"/>
<text x="565.79" y="283.69" font-size="5.9" text-anchor="middle" fill="#1a1a1a">1</text>
<text x="565.79" y="270.28" font-size="5.9" text-anchor="middle" fill="#1a1a1a">1</text>
<line x1="574.67" y1="288.4" x2="574.67" y2="294.7" stroke="#444" stroke-width="0.9"/>
<text transform="translate(577.37 298.8) rotate(-90)" font-size="7.4" text-anchor="end" fill="#4169E1">VDR</text>
<rect x="570.97" y="274.39" width="7.39" height="13.41" fill="#CD8162" stroke="#2a2a2a" stroke-width="0.95"/>
<text x="574.67" y="283.69" font-size="5.9" text-anchor="middle" fill="#1a1a1a">1</text>
<line x1="35.3" y1="86.7" x2="599" y2="86.7" stroke="#d4d4d4" stroke-width="0.8" stroke-dasharray="0.9 1.77"/>
<text x="317.2" y="360.5" font-size="7.5" text-anchor="middle" fill="#111">Distribution of CNV duplications</text>
<text x="-0.3" y="358.8" font-size="12.4" font-weight="bold" fill="#000">b</text>
<rect x="225.1" y="370.3" width="184.6" height="45" fill="none" stroke="#6a6a6a" stroke-width="1.1"/>
<rect x="230.1" y="377.85" width="3.4" height="3.5" fill="#CD8162"/>
<text x="238.4" y="381.8" font-size="6.27" fill="#1a1a1a">1 exonic CNV with Cscore ≥ 8 [22, 0.20%]</text>
<rect x="230.1" y="386.8" width="3.4" height="3.5" fill="#CDC673"/>
<text x="238.4" y="390.75" font-size="6.27" fill="#1a1a1a">2 only contiguous exonic CNV [20, 0.18%]</text>
<rect x="230.1" y="395.75" width="3.4" height="3.5" fill="#9AC0CD"/>
<text x="238.4" y="399.7" font-size="6.27" fill="#1a1a1a">3 or more contiguous/discrete exonic CNV [69, 0.63%]</text>
<rect x="230.1" y="404.7" width="3.4" height="3.5" fill="#FFA500"/>
<text x="238.4" y="408.65" font-size="6.27" fill="#1a1a1a">Full gene CNV gain [84, 0.77%]</text>
<line x1="35.3" y1="437" x2="35.3" y2="638.4" stroke="#555" stroke-width="1.1"/>
<line x1="35.3" y1="369.9" x2="35.3" y2="437" stroke="#555" stroke-width="0.9" stroke-dasharray="0.9 1.77"/>
<line x1="28.8" y1="638.4" x2="35.3" y2="638.4" stroke="#555" stroke-width="1.1"/>
<text x="25.1" y="640.75" font-size="7.6" text-anchor="end" fill="#111">0</text>
<line x1="28.8" y1="571.25" x2="35.3" y2="571.25" stroke="#555" stroke-width="1.1"/>
<text x="25.1" y="573.6" font-size="7.6" text-anchor="end" fill="#111">5</text>
<line x1="28.8" y1="504.1" x2="35.3" y2="504.1" stroke="#555" stroke-width="1.1"/>
<text x="25.1" y="506.45" font-size="7.6" text-anchor="end" fill="#111">10</text>
<line x1="28.8" y1="437" x2="35.3" y2="437" stroke="#555" stroke-width="1.1"/>
<text x="25.1" y="439.35" font-size="7.6" text-anchor="end" fill="#111">15</text>
<line x1="28.8" y1="403.4" x2="35.3" y2="403.4" stroke="#555" stroke-width="1.1"/>
<text x="25.1" y="405.75" font-size="7.6" text-anchor="end" fill="#ff0d0d">45</text>
<line x1="28.8" y1="369.9" x2="35.3" y2="369.9" stroke="#555" stroke-width="1.1"/>
<text x="25.1" y="372.25" font-size="7.6" text-anchor="end" fill="#ff0d0d">75</text>
<text transform="translate(5.96 504.15) rotate(-90)" font-size="7.55" text-anchor="middle" fill="#111">Sample count</text>
<line x1="331.5" y1="439.5" x2="331.5" y2="638.4" stroke="#666" stroke-width="0.9" stroke-dasharray="0.9 1.77"/>
<line x1="60.18" y1="639" x2="60.18" y2="645.3" stroke="#444" stroke-width="0.9"/>
<text transform="translate(62.88 649.4) rotate(-90)" font-size="7.4" text-anchor="end" fill="#111">ACTC1</text>
<rect x="56.28" y="624.97" width="7.79" height="13.43" fill="#9AC0CD" stroke="#2a2a2a" stroke-width="0.95"/>
<rect x="56.28" y="598.11" width="7.79" height="26.86" fill="#FFA500" stroke="#2a2a2a" stroke-width="0.95"/>
<text x="60.18" y="634.27" font-size="5.9" text-anchor="middle" fill="#1a1a1a">1</text>
<text x="60.18" y="607.41" font-size="5.9" text-anchor="middle" fill="#1a1a1a">2</text>
<line x1="69.52" y1="639" x2="69.52" y2="645.3" stroke="#444" stroke-width="0.9"/>
<text transform="translate(72.22 649.4) rotate(-90)" font-size="7.4" text-anchor="end" fill="#111">APC</text>
<rect x="65.63" y="624.97" width="7.79" height="13.43" fill="#9AC0CD" stroke="#2a2a2a" stroke-width="0.95"/>
<text x="69.52" y="634.27" font-size="5.9" text-anchor="middle" fill="#1a1a1a">1</text>
<line x1="78.88" y1="639" x2="78.88" y2="645.3" stroke="#444" stroke-width="0.9"/>
<text transform="translate(81.58 649.4) rotate(-90)" font-size="7.4" text-anchor="end" fill="#4169E1">BRCA1</text>
<rect x="74.98" y="624.97" width="7.79" height="13.43" fill="#9AC0CD" stroke="#2a2a2a" stroke-width="0.95"/>
<text x="78.88" y="634.27" font-size="5.9" text-anchor="middle" fill="#1a1a1a">1</text>
<line x1="88.22" y1="639" x2="88.22" y2="645.3" stroke="#444" stroke-width="0.9"/>
<text transform="translate(90.92 649.4) rotate(-90)" font-size="7.4" text-anchor="end" fill="#111">CACNA1S</text>
<rect x="84.33" y="624.97" width="7.79" height="13.43" fill="#9AC0CD" stroke="#2a2a2a" stroke-width="0.95"/>
<text x="88.22" y="634.27" font-size="5.9" text-anchor="middle" fill="#1a1a1a">1</text>
<line x1="97.58" y1="639" x2="97.58" y2="645.3" stroke="#444" stroke-width="0.9"/>
<text transform="translate(100.28 649.4) rotate(-90)" font-size="7.4" text-anchor="end" fill="#4169E1">COL3A1</text>
<rect x="93.68" y="624.97" width="7.79" height="13.43" fill="#CDC673" stroke="#2a2a2a" stroke-width="0.95"/>
<text x="97.58" y="634.27" font-size="5.9" text-anchor="middle" fill="#1a1a1a">1</text>
<line x1="106.92" y1="639" x2="106.92" y2="645.3" stroke="#444" stroke-width="0.9"/>
<text transform="translate(109.62 649.4) rotate(-90)" font-size="7.4" text-anchor="end" fill="#111">DSG2</text>
<rect x="103.03" y="624.97" width="7.79" height="13.43" fill="#9AC0CD" stroke="#2a2a2a" stroke-width="0.95"/>
<text x="106.92" y="634.27" font-size="5.9" text-anchor="middle" fill="#1a1a1a">1</text>
<line x1="116.27" y1="639" x2="116.27" y2="645.3" stroke="#444" stroke-width="0.9"/>
<text transform="translate(118.97 649.4) rotate(-90)" font-size="7.4" text-anchor="end" fill="#111">FBN1</text>
<rect x="112.38" y="624.97" width="7.79" height="13.43" fill="#9AC0CD" stroke="#2a2a2a" stroke-width="0.95"/>
<text x="116.27" y="634.27" font-size="5.9" text-anchor="middle" fill="#1a1a1a">1</text>
<line x1="125.62" y1="639" x2="125.62" y2="645.3" stroke="#444" stroke-width="0.9"/>
<text transform="translate(128.32 649.4) rotate(-90)" font-size="7.4" text-anchor="end" fill="#4169E1">GLA</text>
<rect x="121.73" y="420.3" width="7.79" height="218.1" fill="#FFA500" stroke="#2a2a2a" stroke-width="0.95"/>
<text x="125.62" y="429.6" font-size="5.9" text-anchor="middle" fill="#1a1a1a">30</text>
<text x="125.83" y="414" font-size="5.8" text-anchor="middle" fill="#ff1f1f">* 30</text>
<line x1="134.97" y1="639" x2="134.97" y2="645.3" stroke="#444" stroke-width="0.9"/>
<text transform="translate(137.67 649.4) rotate(-90)" font-size="7.4" text-anchor="end" fill="#4169E1">KCNQ1</text>
<rect x="131.08" y="624.97" width="7.79" height="13.43" fill="#FFA500" stroke="#2a2a2a" stroke-width="0.95"/>
<text x="134.97" y="634.27" font-size="5.9" text-anchor="middle" fill="#1a1a1a">1</text>
<line x1="144.33" y1="639" x2="144.33" y2="645.3" stroke="#444" stroke-width="0.9"/>
<text transform="translate(147.03 649.4) rotate(-90)" font-size="7.4" text-anchor="end" fill="#4169E1">LDLR</text>
<rect x="140.43" y="598.11" width="7.79" height="40.29" fill="#9AC0CD" stroke="#2a2a2a" stroke-width="0.95"/>
<text x="144.33" y="607.41" font-size="5.9" text-anchor="middle" fill="#1a1a1a">3</text>
<line x1="153.68" y1="639" x2="153.68" y2="645.3" stroke="#444" stroke-width="0.9"/>
<text transform="translate(156.38 649.4) rotate(-90)" font-size="7.4" text-anchor="end" fill="#4169E1">MLH1</text>
<rect x="149.78" y="624.97" width="7.79" height="13.43" fill="#9AC0CD" stroke="#2a2a2a" stroke-width="0.95"/>
<text x="153.68" y="634.27" font-size="5.9" text-anchor="middle" fill="#1a1a1a">1</text>
<line x1="163.03" y1="639" x2="163.03" y2="645.3" stroke="#444" stroke-width="0.9"/>
<text transform="translate(165.72 649.4) rotate(-90)" font-size="7.4" text-anchor="end" fill="#111">MYBPC3</text>
<rect x="159.13" y="624.97" width="7.79" height="13.43" fill="#9AC0CD" stroke="#2a2a2a" stroke-width="0.95"/>
<text x="163.03" y="634.27" font-size="5.9" text-anchor="middle" fill="#1a1a1a">1</text>
<line x1="172.38" y1="639" x2="172.38" y2="645.3" stroke="#444" stroke-width="0.9"/>
<text transform="translate(175.07 649.4) rotate(-90)" font-size="7.4" text-anchor="end" fill="#4169E1">MYH11</text>
<rect x="168.48" y="584.68" width="7.79" height="53.72" fill="#9AC0CD" stroke="#2a2a2a" stroke-width="0.95"/>
<rect x="168.48" y="435.5" width="7.79" height="149.18" fill="#FFA500" stroke="#2a2a2a" stroke-width="0.95"/>
<text x="172.38" y="593.98" font-size="5.9" text-anchor="middle" fill="#1a1a1a">4</text>
<text x="172.38" y="444.8" font-size="5.9" text-anchor="middle" fill="#1a1a1a">12</text>
<text x="172.57" y="429.3" font-size="5.8" text-anchor="middle" fill="#ff1f1f">* 16</text>
<line x1="181.72" y1="639" x2="181.72" y2="645.3" stroke="#444" stroke-width="0.9"/>
<text transform="translate(184.42 649.4) rotate(-90)" font-size="7.4" text-anchor="end" fill="#4169E1">MYH7</text>
<rect x="177.83" y="598.11" width="7.79" height="40.29" fill="#9AC0CD" stroke="#2a2a2a" stroke-width="0.95"/>
<text x="181.72" y="607.41" font-size="5.9" text-anchor="middle" fill="#1a1a1a">3</text>
<line x1="191.08" y1="639" x2="191.08" y2="645.3" stroke="#444" stroke-width="0.9"/>
<text transform="translate(193.78 649.4) rotate(-90)" font-size="7.4" text-anchor="end" fill="#111">MYL2</text>
<rect x="187.18" y="624.97" width="7.79" height="13.43" fill="#9AC0CD" stroke="#2a2a2a" stroke-width="0.95"/>
<text x="191.08" y="634.27" font-size="5.9" text-anchor="middle" fill="#1a1a1a">1</text>
<line x1="200.43" y1="639" x2="200.43" y2="645.3" stroke="#444" stroke-width="0.9"/>
<text transform="translate(203.12 649.4) rotate(-90)" font-size="7.4" text-anchor="end" fill="#111">NF2</text>
<rect x="196.53" y="611.54" width="7.79" height="26.86" fill="#9AC0CD" stroke="#2a2a2a" stroke-width="0.95"/>
<text x="200.43" y="620.84" font-size="5.9" text-anchor="middle" fill="#1a1a1a">2</text>
<line x1="209.78" y1="639" x2="209.78" y2="645.3" stroke="#444" stroke-width="0.9"/>
<text transform="translate(212.47 649.4) rotate(-90)" font-size="7.4" text-anchor="end" fill="#4169E1">OTC</text>
<rect x="205.88" y="598.11" width="7.79" height="40.29" fill="#9AC0CD" stroke="#2a2a2a" stroke-width="0.95"/>
<rect x="205.88" y="413.4" width="7.79" height="184.71" fill="#FFA500" stroke="#2a2a2a" stroke-width="0.95"/>
<text x="209.78" y="607.41" font-size="5.9" text-anchor="middle" fill="#1a1a1a">3</text>
<text x="209.78" y="422.7" font-size="5.9" text-anchor="middle" fill="#1a1a1a">30</text>
<text x="209.97" y="407.2" font-size="5.8" text-anchor="middle" fill="#ff1f1f">* 33</text>
<line x1="219.12" y1="639" x2="219.12" y2="645.3" stroke="#444" stroke-width="0.9"/>
<text transform="translate(221.82 649.4) rotate(-90)" font-size="7.4" text-anchor="end" fill="#4169E1">PCSK9</text>
<rect x="215.23" y="611.54" width="7.79" height="26.86" fill="#CDC673" stroke="#2a2a2a" stroke-width="0.95"/>
<text x="219.12" y="620.84" font-size="5.9" text-anchor="middle" fill="#1a1a1a">2</text>
<line x1="228.47" y1="639" x2="228.47" y2="645.3" stroke="#444" stroke-width="0.9"/>
<text transform="translate(231.17 649.4) rotate(-90)" font-size="7.4" text-anchor="end" fill="#4169E1">PMS2</text>
<rect x="224.58" y="624.97" width="7.79" height="13.43" fill="#9AC0CD" stroke="#2a2a2a" stroke-width="0.95"/>
<text x="228.47" y="634.27" font-size="5.9" text-anchor="middle" fill="#1a1a1a">1</text>
<line x1="237.83" y1="639" x2="237.83" y2="645.3" stroke="#444" stroke-width="0.9"/>
<text transform="translate(240.53 649.4) rotate(-90)" font-size="7.4" text-anchor="end" fill="#4169E1">PRKAG2</text>
<rect x="233.93" y="624.97" width="7.79" height="13.43" fill="#CDC673" stroke="#2a2a2a" stroke-width="0.95"/>
<text x="237.83" y="634.27" font-size="5.9" text-anchor="middle" fill="#1a1a1a">1</text>
<line x1="247.18" y1="639" x2="247.18" y2="645.3" stroke="#444" stroke-width="0.9"/>
<text transform="translate(249.88 649.4) rotate(-90)" font-size="7.4" text-anchor="end" fill="#4169E1">RB1</text>
<rect x="243.28" y="624.97" width="7.79" height="13.43" fill="#9AC0CD" stroke="#2a2a2a" stroke-width="0.95"/>
<rect x="243.28" y="611.54" width="7.79" height="13.43" fill="#FFA500" stroke="#2a2a2a" stroke-width="0.95"/>
<text x="247.18" y="634.27" font-size="5.9" text-anchor="middle" fill="#1a1a1a">1</text>
<text x="247.18" y="620.84" font-size="5.9" text-anchor="middle" fill="#1a1a1a">1</text>
<line x1="256.52" y1="639" x2="256.52" y2="645.3" stroke="#444" stroke-width="0.9"/>
<text transform="translate(259.22 649.4) rotate(-90)" font-size="7.4" text-anchor="end" fill="#4169E1">SDHC</text>
<rect x="252.63" y="624.97" width="7.79" height="13.43" fill="#9AC0CD" stroke="#2a2a2a" stroke-width="0.95"/>
<text x="256.52" y="634.27" font-size="5.9" text-anchor="middle" fill="#1a1a1a">1</text>
<line x1="265.88" y1="639" x2="265.88" y2="645.3" stroke="#444" stroke-width="0.9"/>
<text transform="translate(268.57 649.4) rotate(-90)" font-size="7.4" text-anchor="end" fill="#111">SMAD4</text>
<rect x="261.98" y="517.53" width="7.79" height="120.87" fill="#9AC0CD" stroke="#2a2a2a" stroke-width="0.95"/>
<text x="265.88" y="526.83" font-size="5.9" text-anchor="middle" fill="#1a1a1a">9</text>
<line x1="275.22" y1="639" x2="275.22" y2="645.3" stroke="#444" stroke-width="0.9"/>
<text transform="translate(277.92 649.4) rotate(-90)" font-size="7.4" text-anchor="end" fill="#111">TGFBR1</text>
<rect x="271.33" y="624.97" width="7.79" height="13.43" fill="#9AC0CD" stroke="#2a2a2a" stroke-width="0.95"/>
<text x="275.22" y="634.27" font-size="5.9" text-anchor="middle" fill="#1a1a1a">1</text>
<line x1="284.57" y1="639" x2="284.57" y2="645.3" stroke="#444" stroke-width="0.9"/>
<text transform="translate(287.27 649.4) rotate(-90)" font-size="7.4" text-anchor="end" fill="#111">TGFBR2</text>
<rect x="280.68" y="624.97" width="7.79" height="13.43" fill="#CD8162" stroke="#2a2a2a" stroke-width="0.95"/>
<text x="284.57" y="634.27" font-size="5.9" text-anchor="middle" fill="#1a1a1a">1</text>
<line x1="293.92" y1="639" x2="293.92" y2="645.3" stroke="#444" stroke-width="0.9"/>
<text transform="translate(296.62 649.4) rotate(-90)" font-size="7.4" text-anchor="end" fill="#111">TNNI3</text>
<rect x="290.03" y="624.97" width="7.79" height="13.43" fill="#9AC0CD" stroke="#2a2a2a" stroke-width="0.95"/>
<rect x="290.03" y="611.54" width="7.79" height="13.43" fill="#FFA500" stroke="#2a2a2a" stroke-width="0.95"/>
<text x="293.92" y="634.27" font-size="5.9" text-anchor="middle" fill="#1a1a1a">1</text>
<text x="293.92" y="620.84" font-size="5.9" text-anchor="middle" fill="#1a1a1a">1</text>
<line x1="303.27" y1="639" x2="303.27" y2="645.3" stroke="#444" stroke-width="0.9"/>
<text transform="translate(305.97 649.4) rotate(-90)" font-size="7.4" text-anchor="end" fill="#111">TNNT2</text>
<rect x="299.38" y="624.97" width="7.79" height="13.43" fill="#9AC0CD" stroke="#2a2a2a" stroke-width="0.95"/>
<text x="303.27" y="634.27" font-size="5.9" text-anchor="middle" fill="#1a1a1a">1</text>
<line x1="312.62" y1="639" x2="312.62" y2="645.3" stroke="#444" stroke-width="0.9"/>
<text transform="translate(315.32 649.4) rotate(-90)" font-size="7.4" text-anchor="end" fill="#111">VHL</text>
<rect x="308.73" y="624.97" width="7.79" height="13.43" fill="#FFA500" stroke="#2a2a2a" stroke-width="0.95"/>
<text x="312.62" y="634.27" font-size="5.9" text-anchor="middle" fill="#1a1a1a">1</text>
<line x1="321.98" y1="639" x2="321.98" y2="645.3" stroke="#444" stroke-width="0.9"/>
<text transform="translate(324.68 649.4) rotate(-90)" font-size="7.4" text-anchor="end" fill="#4169E1">WT1</text>
<rect x="318.08" y="624.97" width="7.79" height="13.43" fill="#9AC0CD" stroke="#2a2a2a" stroke-width="0.95"/>
<text x="321.98" y="634.27" font-size="5.9" text-anchor="middle" fill="#1a1a1a">1</text>
<line x1="331.32" y1="639" x2="331.32" y2="645.3" stroke="#444" stroke-width="0.9"/>
<line x1="331.32" y1="649.4" x2="331.32" y2="681.2" stroke="#777" stroke-width="1.1" stroke-dasharray="3.6 0.95"/>
<line x1="340.67" y1="639" x2="340.67" y2="645.3" stroke="#444" stroke-width="0.9"/>
<text transform="translate(343.37 649.4) rotate(-90)" font-size="7.4" text-anchor="end" fill="#4169E1">ANGPTL4</text>
<rect x="336.78" y="624.97" width="7.79" height="13.43" fill="#CDC673" stroke="#2a2a2a" stroke-width="0.95"/>
<text x="340.67" y="634.27" font-size="5.9" text-anchor="middle" fill="#1a1a1a">1</text>
<line x1="350.02" y1="639" x2="350.02" y2="645.3" stroke="#444" stroke-width="0.9"/>
<text transform="translate(352.72 649.4) rotate(-90)" font-size="7.4" text-anchor="end" fill="#4169E1">APOE</text>
<rect x="346.13" y="624.97" width="7.79" height="13.43" fill="#FFA500" stroke="#2a2a2a" stroke-width="0.95"/>
<text x="350.02" y="634.27" font-size="5.9" text-anchor="middle" fill="#1a1a1a">1</text>
<line x1="359.38" y1="639" x2="359.38" y2="645.3" stroke="#444" stroke-width="0.9"/>
<text transform="translate(362.07 649.4) rotate(-90)" font-size="7.4" text-anchor="end" fill="#4169E1">ATM</text>
<rect x="355.48" y="584.68" width="7.79" height="53.72" fill="#CDC673" stroke="#2a2a2a" stroke-width="0.95"/>
<text x="359.38" y="593.98" font-size="5.9" text-anchor="middle" fill="#1a1a1a">4</text>
<line x1="368.73" y1="639" x2="368.73" y2="645.3" stroke="#444" stroke-width="0.9"/>
<text transform="translate(371.43 649.4) rotate(-90)" font-size="7.4" text-anchor="end" fill="#4169E1">CACNA1A</text>
<rect x="364.83" y="624.97" width="7.79" height="13.43" fill="#9AC0CD" stroke="#2a2a2a" stroke-width="0.95"/>
<text x="368.73" y="634.27" font-size="5.9" text-anchor="middle" fill="#1a1a1a">1</text>
<line x1="378.07" y1="639" x2="378.07" y2="645.3" stroke="#444" stroke-width="0.9"/>
<text transform="translate(380.77 649.4) rotate(-90)" font-size="7.4" text-anchor="end" fill="#4169E1">CACNA1B</text>
<rect x="374.18" y="544.39" width="7.79" height="94.01" fill="#9AC0CD" stroke="#2a2a2a" stroke-width="0.95"/>
<text x="378.07" y="553.69" font-size="5.9" text-anchor="middle" fill="#1a1a1a">7</text>
<line x1="387.42" y1="639" x2="387.42" y2="645.3" stroke="#444" stroke-width="0.9"/>
<text transform="translate(390.12 649.4) rotate(-90)" font-size="7.4" text-anchor="end" fill="#4169E1">CACNA1C</text>
<rect x="383.53" y="598.11" width="7.79" height="40.29" fill="#9AC0CD" stroke="#2a2a2a" stroke-width="0.95"/>
<text x="387.42" y="607.41" font-size="5.9" text-anchor="middle" fill="#1a1a1a">3</text>
<line x1="396.77" y1="639" x2="396.77" y2="645.3" stroke="#444" stroke-width="0.9"/>
<text transform="translate(399.47 649.4) rotate(-90)" font-size="7.4" text-anchor="end" fill="#4169E1">CFH</text>
<rect x="392.88" y="624.97" width="7.79" height="13.43" fill="#CDC673" stroke="#2a2a2a" stroke-width="0.95"/>
<text x="396.77" y="634.27" font-size="5.9" text-anchor="middle" fill="#1a1a1a">1</text>
<line x1="406.12" y1="639" x2="406.12" y2="645.3" stroke="#444" stroke-width="0.9"/>
<text transform="translate(408.82 649.4) rotate(-90)" font-size="7.4" text-anchor="end" fill="#4169E1">CHEK2</text>
<rect x="402.23" y="598.11" width="7.79" height="40.29" fill="#CDC673" stroke="#2a2a2a" stroke-width="0.95"/>
<rect x="402.23" y="530.96" width="7.79" height="67.15" fill="#9AC0CD" stroke="#2a2a2a" stroke-width="0.95"/>
<text x="406.12" y="607.41" font-size="5.9" text-anchor="middle" fill="#1a1a1a">3</text>
<text x="406.12" y="540.26" font-size="5.9" text-anchor="middle" fill="#1a1a1a">5</text>
<line x1="415.48" y1="639" x2="415.48" y2="645.3" stroke="#444" stroke-width="0.9"/>
<text transform="translate(418.18 649.4) rotate(-90)" font-size="7.4" text-anchor="end" fill="#4169E1">CORIN</text>
<rect x="411.58" y="624.97" width="7.79" height="13.43" fill="#9AC0CD" stroke="#2a2a2a" stroke-width="0.95"/>
<text x="415.48" y="634.27" font-size="5.9" text-anchor="middle" fill="#1a1a1a">1</text>
<line x1="424.82" y1="639" x2="424.82" y2="645.3" stroke="#444" stroke-width="0.9"/>
<text transform="translate(427.52 649.4) rotate(-90)" font-size="7.4" text-anchor="end" fill="#111">GRM2</text>
<rect x="420.93" y="624.97" width="7.79" height="13.43" fill="#CDC673" stroke="#2a2a2a" stroke-width="0.95"/>
<text x="424.82" y="634.27" font-size="5.9" text-anchor="middle" fill="#1a1a1a">1</text>
<line x1="434.17" y1="639" x2="434.17" y2="645.3" stroke="#444" stroke-width="0.9"/>
<text transform="translate(436.87 649.4) rotate(-90)" font-size="7.4" text-anchor="end" fill="#4169E1">GRM5</text>
<rect x="430.28" y="611.54" width="7.79" height="26.86" fill="#9AC0CD" stroke="#2a2a2a" stroke-width="0.95"/>
<text x="434.17" y="620.84" font-size="5.9" text-anchor="middle" fill="#1a1a1a">2</text>
<line x1="443.52" y1="639" x2="443.52" y2="645.3" stroke="#444" stroke-width="0.9"/>
<text transform="translate(446.22 649.4) rotate(-90)" font-size="7.4" text-anchor="end" fill="#4169E1">GRM7</text>
<rect x="439.63" y="598.11" width="7.79" height="40.29" fill="#9AC0CD" stroke="#2a2a2a" stroke-width="0.95"/>
<text x="443.52" y="607.41" font-size="5.9" text-anchor="middle" fill="#1a1a1a">3</text>
<line x1="452.88" y1="639" x2="452.88" y2="645.3" stroke="#444" stroke-width="0.9"/>
<text transform="translate(455.57 649.4) rotate(-90)" font-size="7.4" text-anchor="end" fill="#4169E1">GRM8</text>
<rect x="448.98" y="624.97" width="7.79" height="13.43" fill="#CD8162" stroke="#2a2a2a" stroke-width="0.95"/>
<rect x="448.98" y="611.54" width="7.79" height="13.43" fill="#CDC673" stroke="#2a2a2a" stroke-width="0.95"/>
<text x="452.88" y="634.27" font-size="5.9" text-anchor="middle" fill="#1a1a1a">1</text>
<text x="452.88" y="620.84" font-size="5.9" text-anchor="middle" fill="#1a1a1a">1</text>
<line x1="462.23" y1="639" x2="462.23" y2="645.3" stroke="#444" stroke-width="0.9"/>
<text transform="translate(464.93 649.4) rotate(-90)" font-size="7.4" text-anchor="end" fill="#111">HNF1A</text>
<rect x="458.33" y="624.97" width="7.79" height="13.43" fill="#FFA500" stroke="#2a2a2a" stroke-width="0.95"/>
<text x="462.23" y="634.27" font-size="5.9" text-anchor="middle" fill="#1a1a1a">1</text>
<line x1="471.57" y1="639" x2="471.57" y2="645.3" stroke="#444" stroke-width="0.9"/>
<text transform="translate(474.27 649.4) rotate(-90)" font-size="7.4" text-anchor="end" fill="#4169E1">HNF1B</text>
<rect x="467.68" y="624.97" width="7.79" height="13.43" fill="#9AC0CD" stroke="#2a2a2a" stroke-width="0.95"/>
<rect x="467.68" y="598.11" width="7.79" height="26.86" fill="#FFA500" stroke="#2a2a2a" stroke-width="0.95"/>
<text x="471.57" y="634.27" font-size="5.9" text-anchor="middle" fill="#1a1a1a">1</text>
<text x="471.57" y="607.41" font-size="5.9" text-anchor="middle" fill="#1a1a1a">2</text>
<line x1="480.92" y1="639" x2="480.92" y2="645.3" stroke="#444" stroke-width="0.9"/>
<text transform="translate(483.62 649.4) rotate(-90)" font-size="7.4" text-anchor="end" fill="#111">KCNE1</text>
<rect x="477.03" y="434.4" width="7.79" height="204" fill="#CD8162" stroke="#2a2a2a" stroke-width="0.95"/>
<text x="480.92" y="443.7" font-size="5.9" text-anchor="middle" fill="#1a1a1a">18</text>
<text x="481.12" y="428.2" font-size="5.8" text-anchor="middle" fill="#ff1f1f">* 18</text>
<line x1="490.27" y1="639" x2="490.27" y2="645.3" stroke="#444" stroke-width="0.9"/>
<text transform="translate(492.97 649.4) rotate(-90)" font-size="7.4" text-anchor="end" fill="#111">KCNJ2</text>
<rect x="486.38" y="624.97" width="7.79" height="13.43" fill="#CD8162" stroke="#2a2a2a" stroke-width="0.95"/>
<text x="490.27" y="634.27" font-size="5.9" text-anchor="middle" fill="#1a1a1a">1</text>
<line x1="499.62" y1="639" x2="499.62" y2="645.3" stroke="#444" stroke-width="0.9"/>
<text transform="translate(502.32 649.4) rotate(-90)" font-size="7.4" text-anchor="end" fill="#111">MTHFR</text>
<rect x="495.73" y="624.97" width="7.79" height="13.43" fill="#FFA500" stroke="#2a2a2a" stroke-width="0.95"/>
<text x="499.62" y="634.27" font-size="5.9" text-anchor="middle" fill="#1a1a1a">1</text>
<line x1="508.97" y1="639" x2="508.97" y2="645.3" stroke="#444" stroke-width="0.9"/>
<text transform="translate(511.67 649.4) rotate(-90)" font-size="7.4" text-anchor="end" fill="#4169E1">MYLK</text>
<rect x="505.08" y="624.97" width="7.79" height="13.43" fill="#9AC0CD" stroke="#2a2a2a" stroke-width="0.95"/>
<text x="508.97" y="634.27" font-size="5.9" text-anchor="middle" fill="#1a1a1a">1</text>
<line x1="518.32" y1="639" x2="518.32" y2="645.3" stroke="#444" stroke-width="0.9"/>
<text transform="translate(521.02 649.4) rotate(-90)" font-size="7.4" text-anchor="end" fill="#4169E1">POLD1</text>
<rect x="514.43" y="624.97" width="7.79" height="13.43" fill="#CDC673" stroke="#2a2a2a" stroke-width="0.95"/>
<text x="518.32" y="634.27" font-size="5.9" text-anchor="middle" fill="#1a1a1a">1</text>
<line x1="527.67" y1="639" x2="527.67" y2="645.3" stroke="#444" stroke-width="0.9"/>
<text transform="translate(530.38 649.4) rotate(-90)" font-size="7.4" text-anchor="end" fill="#111">POLE</text>
<rect x="523.78" y="584.68" width="7.79" height="53.72" fill="#9AC0CD" stroke="#2a2a2a" stroke-width="0.95"/>
<text x="527.67" y="593.98" font-size="5.9" text-anchor="middle" fill="#1a1a1a">4</text>
<line x1="537.02" y1="639" x2="537.02" y2="645.3" stroke="#444" stroke-width="0.9"/>
<text transform="translate(539.73 649.4) rotate(-90)" font-size="7.4" text-anchor="end" fill="#4169E1">SCN9A</text>
<rect x="533.13" y="624.97" width="7.79" height="13.43" fill="#CDC673" stroke="#2a2a2a" stroke-width="0.95"/>
<text x="537.02" y="634.27" font-size="5.9" text-anchor="middle" fill="#1a1a1a">1</text>
<line x1="546.38" y1="639" x2="546.38" y2="645.3" stroke="#444" stroke-width="0.9"/>
<text transform="translate(549.08 649.4) rotate(-90)" font-size="7.4" text-anchor="end" fill="#4169E1">SLC25A40</text>
<rect x="542.48" y="611.54" width="7.79" height="26.86" fill="#CDC673" stroke="#2a2a2a" stroke-width="0.95"/>
<text x="546.38" y="620.84" font-size="5.9" text-anchor="middle" fill="#1a1a1a">2</text>
<line x1="555.72" y1="639" x2="555.72" y2="645.3" stroke="#444" stroke-width="0.9"/>
<text transform="translate(558.42 649.4) rotate(-90)" font-size="7.4" text-anchor="end" fill="#4169E1">TYK2</text>
<rect x="551.83" y="624.97" width="7.79" height="13.43" fill="#CD8162" stroke="#2a2a2a" stroke-width="0.95"/>
<rect x="551.83" y="611.54" width="7.79" height="13.43" fill="#CDC673" stroke="#2a2a2a" stroke-width="0.95"/>
<text x="555.72" y="634.27" font-size="5.9" text-anchor="middle" fill="#1a1a1a">1</text>
<text x="555.72" y="620.84" font-size="5.9" text-anchor="middle" fill="#1a1a1a">1</text>
<line x1="565.07" y1="639" x2="565.07" y2="645.3" stroke="#444" stroke-width="0.9"/>
<text transform="translate(567.77 649.4) rotate(-90)" font-size="7.4" text-anchor="end" fill="#111">UMOD</text>
<rect x="561.18" y="624.97" width="7.79" height="13.43" fill="#FFA500" stroke="#2a2a2a" stroke-width="0.95"/>
<text x="565.07" y="634.27" font-size="5.9" text-anchor="middle" fill="#1a1a1a">1</text>
<line x1="574.42" y1="639" x2="574.42" y2="645.3" stroke="#444" stroke-width="0.9"/>
<text transform="translate(577.12 649.4) rotate(-90)" font-size="7.4" text-anchor="end" fill="#4169E1">VDR</text>
<rect x="570.53" y="624.97" width="7.79" height="13.43" fill="#9AC0CD" stroke="#2a2a2a" stroke-width="0.95"/>
<text x="574.42" y="634.27" font-size="5.9" text-anchor="middle" fill="#1a1a1a">1</text>
<line x1="35.3" y1="437" x2="599" y2="437" stroke="#d4d4d4" stroke-width="0.8" stroke-dasharray="0.9 1.77"/>
</svg>
</body></html>
